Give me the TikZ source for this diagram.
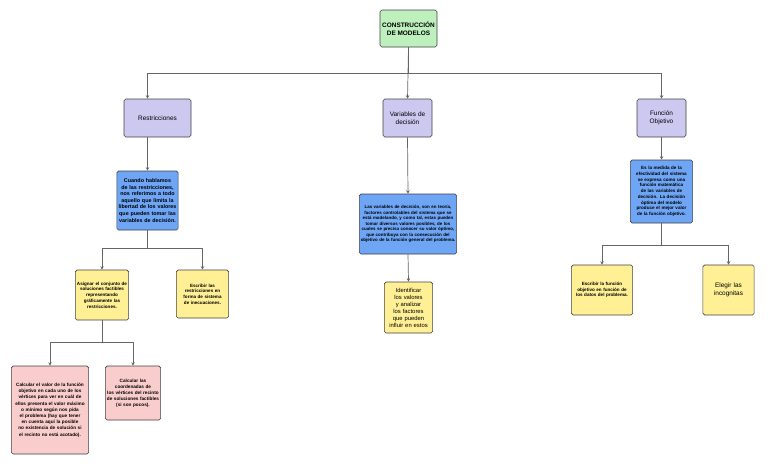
\documentclass[tikz,border=0pt]{standalone}
\usepackage{fontspec}
\setmainfont{Liberation Sans}
\usetikzlibrary{arrows.meta}
\hyphenpenalty=10000
\begin{document}
\begin{tikzpicture}[x=0.03cm,y=-0.03cm,
 box/.style={draw=black!75,rounded corners=1.5pt,line width=0.5pt,align=center,inner sep=1pt,font=\fontsize{4.6}{5.6}\selectfont\bfseries},
 blu/.style={box,fill={rgb,255:red,110;green,165;blue,245}},
 lav/.style={box,fill={rgb,255:red,205;green,200;blue,240},font=\fontsize{5.5}{6.5}\selectfont},
 yel/.style={box,fill={rgb,255:red,255;green,240;blue,150}},
 pnk/.style={box,fill={rgb,255:red,250;green,205;blue,205}},
 grn/.style={box,fill={rgb,255:red,190;green,240;blue,190},font=\fontsize{5.5}{6.5}\selectfont\bfseries},
 ar/.style={draw=black!60,line width=0.6pt,-{Stealth[length=3pt,width=3pt]}}]
\useasboundingbox (0,0) rectangle (768,466);
\node[grn,minimum width=57*0.03cm,minimum height=37*0.03cm] (top) at (408.5,28.5) {CONSTRUCCIÓN\\DE MODELOS};
\node[lav,minimum width=67*0.03cm,minimum height=38*0.03cm] (res) at (157.5,118) {Restricciones};
\node[lav,minimum width=49*0.03cm,minimum height=38*0.03cm] (var) at (407.5,118) {Variables de\\decisión};
\node[lav,minimum width=49*0.03cm,minimum height=38*0.03cm] (fun) at (661.5,118) {Función\\Objetivo};
\node[blu,minimum width=60*0.03cm,minimum height=59*0.03cm,text width=59*0.03cm] (b1) at (147.5,200.5) {Cuando hablamos de las restricciones, nos referimos a todo aquello que limita la libertad de los valores que pueden tomar las variables de decisión.};
\node[blu,minimum width=96*0.03cm,minimum height=60*0.03cm,text width=95*0.03cm,font=\fontsize{3.8}{4.7}\selectfont\bfseries] (b2) at (408,224) {Las variables de decisión, son en teoría, factores controlables del sistema que se está modelando, y como tal, estas pueden tomar diversos valores posibles, de los cuales se precisa conocer su valor óptimo, que contribuya con la consecución del objetivo de la función general del problema.};
\node[blu,minimum width=61*0.03cm,minimum height=63*0.03cm,text width=60*0.03cm,font=\fontsize{3.9}{4.9}\selectfont\bfseries] (b3) at (661.5,191.5) {Es la medida de la efectividad del sistema se expresa como una función matemática de las variables de decisión. La decisión óptima del modelo produce el mejor valor de la función objetivo.};
\node[yel,minimum width=52*0.03cm,minimum height=50*0.03cm,text width=51*0.03cm,font=\fontsize{3.9}{4.9}\selectfont\bfseries] (y1) at (102,295) {Asignar el conjunto de soluciones factibles representando gráficamente las restricciones.};
\node[yel,minimum width=51*0.03cm,minimum height=48*0.03cm,text width=50*0.03cm,font=\fontsize{3.9}{4.9}\selectfont\bfseries] (y2) at (202.5,294) {Escribir las restricciones en forma de sistema de inecuaciones.};
\node[yel,minimum width=47*0.03cm,minimum height=51*0.03cm,text width=46*0.03cm,font=\fontsize{5}{6}\selectfont] (y3) at (408.5,307.5) {Identificar los valores y analizar los factores que pueden influir en estos};
\node[yel,minimum width=60*0.03cm,minimum height=50*0.03cm,text width=59*0.03cm,font=\fontsize{3.9}{4.9}\selectfont\bfseries] (y4) at (602,290) {Escribir la función objetivo en función de los datos del problema.};
\node[yel,minimum width=51*0.03cm,minimum height=50*0.03cm,text width=49*0.03cm,font=\fontsize{5.5}{6.5}\selectfont] (y5) at (728.5,290) {Elegir las\\incognitas};
\node[pnk,minimum width=76*0.03cm,minimum height=88*0.03cm,text width=75*0.03cm,font=\fontsize{4}{5.3}\selectfont\bfseries] (p1) at (50,410) {Calcular el valor de la función objetivo en cada uno de los vértices para ver en cuál de ellos presenta el valor máximo o mínimo según nos pida el problema (hay que tener en cuenta aquí la posible no existencia de solución si el recinto no está acotado).};
\node[pnk,minimum width=54*0.03cm,minimum height=54*0.03cm,text width=53*0.03cm,font=\fontsize{4}{5.1}\selectfont\bfseries] (p2) at (133,393) {Calcular las coordenadas de los vértices del recinto de soluciones factibles (si son pocos).};
\coordinate (resin) at (b1.north |- res.north);
\draw[ar] (top.south) -- ++(0,26) -| (resin);
\draw[ar] (top.south) -- (var.north);
\draw[ar] (top.south) -- ++(0,26) -| (fun.north);
\draw[ar] (b1.north |- res.south) -- (b1.north);
\draw[ar] (var.south) -- (b2.north);
\draw[ar] (fun.south) -- (b3.north);
\draw[ar] (b1.south) -- ++(0,18) -| (y1.north);
\draw[ar] (b1.south) -- ++(0,18) -| (y2.north);
\draw[ar] (b2.south) -- (y3.north);
\draw[ar] (b3.south) -- ++(0,22) -| (y4.north);
\draw[ar] (b3.south) -- ++(0,22) -| (y5.north);
\draw[ar] (y1.south) -- ++(0,22) -| (p1.north);
\draw[ar] (y1.south) -- ++(0,22) -| (p2.north);
\end{tikzpicture}
\end{document}
